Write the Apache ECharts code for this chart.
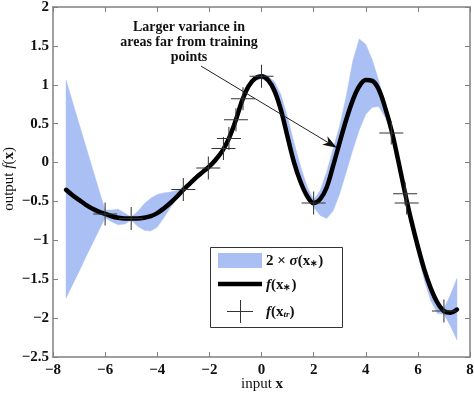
<!DOCTYPE html>
<html><head><meta charset="utf-8">
<script src="https://cdn.jsdelivr.net/npm/echarts@6/dist/echarts.min.js"></script>
<style>html,body{margin:0;padding:0;background:#fff}#c{width:474px;height:395px}</style>
</head><body><div id="c"></div>
<script>
// ---- data ----
const xGrid = [-7.5,-7.25,-7,-6.75,-6.5,-6.25,-6,-5.75,-5.5,-5.25,-5,-4.75,-4.5,-4.25,-4,-3.75,-3.5,-3.25,-3,-2.75,-2.5,-2.25,-2,-1.75,-1.5,-1.25,-1,-0.75,-0.5,-0.25,0,0.25,0.5,0.75,1,1.25,1.5,1.75,2,2.25,2.5,2.75,3,3.25,3.5,3.75,4,4.25,4.5,4.75,5,5.25,5.5,5.75,6,6.25,6.5,6.75,7,7.25,7.5];
const meanVals = [-0.35,-0.42,-0.48,-0.54,-0.59,-0.63,-0.66,-0.69,-0.71,-0.72,-0.72,-0.72,-0.71,-0.69,-0.65,-0.59,-0.52,-0.44,-0.35,-0.27,-0.19,-0.12,-0.05,0.04,0.15,0.31,0.53,0.79,0.98,1.08,1.11,1.06,0.92,0.67,0.33,0.0,-0.25,-0.43,-0.52,-0.47,-0.32,-0.04,0.26,0.55,0.80,0.98,1.06,1.05,0.94,0.70,0.40,0.02,-0.38,-0.75,-1.08,-1.38,-1.62,-1.80,-1.91,-1.93,-1.89];
const upperVals = [1.06,0.78,0.50,0.22,-0.06,-0.34,-0.61,-0.61,-0.60,-0.65,-0.70,-0.63,-0.53,-0.46,-0.41,-0.39,-0.38,-0.36,-0.32,-0.24,-0.16,-0.09,-0.02,0.07,0.18,0.34,0.56,0.82,1.01,1.11,1.14,1.11,1.04,0.87,0.58,0.25,-0.05,-0.31,-0.48,-0.36,-0.12,0.18,0.47,0.85,1.30,1.59,1.52,1.32,1.05,0.74,0.42,0.05,-0.35,-0.72,-1.05,-1.35,-1.59,-1.77,-1.88,-1.70,-1.49];
const lowerVals = [-1.74,-1.57,-1.40,-1.22,-1.05,-0.88,-0.71,-0.76,-0.80,-0.79,-0.74,-0.82,-0.87,-0.88,-0.83,-0.71,-0.58,-0.47,-0.38,-0.30,-0.22,-0.15,-0.08,0.01,0.12,0.28,0.50,0.76,0.95,1.05,1.08,1.03,0.88,0.63,0.29,-0.04,-0.29,-0.47,-0.57,-0.68,-0.72,-0.62,-0.40,-0.12,0.16,0.42,0.62,0.71,0.72,0.58,0.36,-0.02,-0.42,-0.82,-1.18,-1.52,-1.78,-1.94,-1.95,-2.10,-2.28];
const trainX = [-6,-5,-3,-2.04,-1.46,-1.25,-0.98,-0.71,0,2.0,4.98,5.51,5.57,7.0];
const trainY = [-0.66,-0.72,-0.345,-0.07,0.18,0.31,0.55,0.82,1.11,-0.52,0.38,-0.40,-0.52,-1.91];
const arrowFrom = [-2.32, 1.24];
const arrowTo = [2.89, 0.19];
const annotationLines = ['Larger variance in', 'areas far from training', 'points'];

// ---- styling ----
const bandColor = '#aac0f4';
const axisColor = '#808080';
const serif = 'Liberation Serif';
const fmtMinus = v => String(v).replace('-', '\u2212');

const chart = echarts.init(document.getElementById('c'), null, {renderer: 'canvas'});

const axisCommon = {
  type: 'value',
  axisLine: {show: true, onZero: false, lineStyle: {color: axisColor, width: 1.5}},
  axisTick: {show: true, inside: true, length: 5, lineStyle: {color: axisColor, width: 1}},
  splitLine: {show: false}
};
const labelStyle = {color: '#111', fontFamily: serif, fontWeight: 'bold', fontSize: 15, formatter: fmtMinus};

const option = {
  animation: false,
  backgroundColor: '#fff',
  grid: {left: 53, right: 4, top: 7, bottom: 38, containLabel: false, outerBoundsMode: 'none'},
  xAxis: [
    Object.assign({}, axisCommon, {position: 'bottom', min: -8, max: 8, interval: 2,
      axisLabel: Object.assign({margin: 6}, labelStyle)}),
    Object.assign({}, axisCommon, {position: 'top', min: -8, max: 8, interval: 2, axisLabel: {show: false}})
  ],
  yAxis: [
    Object.assign({}, axisCommon, {position: 'left', min: -2.5, max: 2, interval: 0.5,
      axisLabel: Object.assign({margin: 4}, labelStyle)}),
    Object.assign({}, axisCommon, {position: 'right', min: -2.5, max: 2, interval: 0.5, axisLabel: {show: false}})
  ],
  series: [
    {
      name: '2 × σ(x*)',
      type: 'custom',
      z: 1,
      silent: true,
      clip: true,
      data: xGrid.map((x, i) => [x, lowerVals[i], upperVals[i]]),
      encode: {x: 0, y: [1, 2]},
      renderItem: function (params, api) {
        if (params.dataIndex !== 0) return;
        const pts = [];
        for (let i = 0; i < xGrid.length; i++) pts.push(api.coord([xGrid[i], upperVals[i]]));
        for (let i = xGrid.length - 1; i >= 0; i--) pts.push(api.coord([xGrid[i], lowerVals[i]]));
        return {type: 'polygon', shape: {points: pts}, style: {fill: bandColor, stroke: bandColor, lineWidth: 0.5}};
      }
    },
    {
      name: 'f(x*)',
      type: 'line',
      z: 3,
      silent: true,
      showSymbol: false,
      smooth: 0.35,
      data: xGrid.map((x, i) => [x, meanVals[i]]),
      lineStyle: {color: '#000', width: 4.5, cap: 'round', join: 'round'},
      itemStyle: {color: '#000'}
    },
    {
      name: 'f(x_tr)',
      type: 'scatter',
      z: 4,
      silent: true,
      symbol: 'path://M0,12L24,12M12,0L12,24',
      symbolSize: [24, 23],
      itemStyle: {color: 'none', borderColor: '#333', borderWidth: 1, opacity: 1},
      data: trainX.map((x, i) => [x, trainY[i]])
    },
    {
      name: 'annotation',
      type: 'custom',
      z: 5,
      silent: true,
      clip: false,
      data: [[arrowFrom[0], arrowFrom[1], arrowTo[0], arrowTo[1]]],
      encode: {x: [0, 2], y: [1, 3]},
      renderItem: function (params, api) {
        const p0 = api.coord([api.value(0), api.value(1)]);
        const p1 = api.coord([api.value(2), api.value(3)]);
        const dx = p1[0] - p0[0], dy = p1[1] - p0[1];
        const len = Math.sqrt(dx * dx + dy * dy);
        const ux = dx / len, uy = dy / len, nx = -uy, ny = ux;
        const L = 14, W = 5, notch = 4;
        const back = [p1[0] - ux * L, p1[1] - uy * L];
        const mid = [p1[0] - ux * (L - notch), p1[1] - uy * (L - notch)];
        return {type: 'group', children: [
          {type: 'line', shape: {x1: p0[0], y1: p0[1], x2: mid[0], y2: mid[1]}, style: {stroke: '#222', lineWidth: 1}},
          {type: 'polygon', shape: {points: [p1, [back[0] + nx * W, back[1] + ny * W], mid, [back[0] - nx * W, back[1] - ny * W]]},
            style: {fill: '#111'}}
        ]};
      }
    }
  ],
  graphic: [
    // annotation text
    {type: 'text', x: 189, y: 42, z: 10, silent: true,
      style: {text: annotationLines.join('\n'), fontFamily: serif, fontWeight: 'bold', fontSize: 14,
        lineHeight: 15, fill: '#111', align: 'center', verticalAlign: 'middle'}},
    // x axis name
    {type: 'text', x: 262, y: 384, silent: true,
      style: {text: '{n|input }{b|x}', align: 'center', verticalAlign: 'middle',
        rich: {n: {fontFamily: serif, fontSize: 15, fill: '#111'}, b: {fontFamily: serif, fontSize: 15, fontWeight: 'bold', fill: '#111'}}}},
    // y axis name
    {type: 'text', x: 9, y: 179, rotation: Math.PI / 2, silent: true,
      style: {text: '{n|output }{i|f}{n|(}{b|x}{n|)}', align: 'center', verticalAlign: 'middle',
        rich: {n: {fontFamily: serif, fontSize: 15, fill: '#111'}, i: {fontFamily: serif, fontSize: 15, fontStyle: 'italic', fill: '#111'},
          b: {fontFamily: serif, fontSize: 15, fontWeight: 'bold', fill: '#111'}}}},
    // legend
    {type: 'group', z: 20, silent: true, children: [
      {type: 'rect', shape: {x: 210.5, y: 247.5, width: 132, height: 80}, style: {fill: '#fff', stroke: '#333', lineWidth: 1}},
      {type: 'rect', shape: {x: 218, y: 253, width: 44, height: 15}, style: {fill: bandColor}},
      {type: 'line', shape: {x1: 218, y1: 284, x2: 262, y2: 284}, style: {stroke: '#000', lineWidth: 4.5}},
      {type: 'line', shape: {x1: 227, y1: 311.5, x2: 253, y2: 311.5}, style: {stroke: '#333', lineWidth: 1}},
      {type: 'line', shape: {x1: 240.5, y1: 300, x2: 240.5, y2: 323}, style: {stroke: '#333', lineWidth: 1}},
      {type: 'text', x: 266, y: 261, style: {text: '{n|2 × }{i|σ}{n|(}{b|x}{s|∗}{n|)}', verticalAlign: 'middle',
        rich: {n: {fontFamily: serif, fontSize: 15, fontWeight: 'bold', fill: '#111'}, i: {fontFamily: serif, fontSize: 15, fontStyle: 'italic', fontWeight: 'bold', fill: '#111'},
          b: {fontFamily: serif, fontSize: 15, fontWeight: 'bold', fill: '#111'}, s: {fontFamily: serif, fontSize: 9, fontWeight: 'bold', fill: '#111', verticalAlign: 'bottom'}}}},
      {type: 'text', x: 266, y: 285, style: {text: '{i|f}{n|(}{b|x}{s|∗}{n|)}', verticalAlign: 'middle',
        rich: {n: {fontFamily: serif, fontSize: 15, fontWeight: 'bold', fill: '#111'}, i: {fontFamily: serif, fontSize: 15, fontStyle: 'italic', fontWeight: 'bold', fill: '#111'},
          b: {fontFamily: serif, fontSize: 15, fontWeight: 'bold', fill: '#111'}, s: {fontFamily: serif, fontSize: 9, fontWeight: 'bold', fill: '#111', verticalAlign: 'bottom'}}}},
      {type: 'text', x: 266, y: 312, style: {text: '{i|f}{n|(}{b|x}{s|tr}{n|)}', verticalAlign: 'middle',
        rich: {n: {fontFamily: serif, fontSize: 15, fontWeight: 'bold', fill: '#111'}, i: {fontFamily: serif, fontSize: 15, fontStyle: 'italic', fontWeight: 'bold', fill: '#111'},
          b: {fontFamily: serif, fontSize: 15, fontWeight: 'bold', fill: '#111'}, s: {fontFamily: serif, fontSize: 9, fontStyle: 'italic', fontWeight: 'bold', fill: '#111', verticalAlign: 'bottom'}}}}
    ]}
  ]
};
chart.setOption(option);
</script>
</body></html>
